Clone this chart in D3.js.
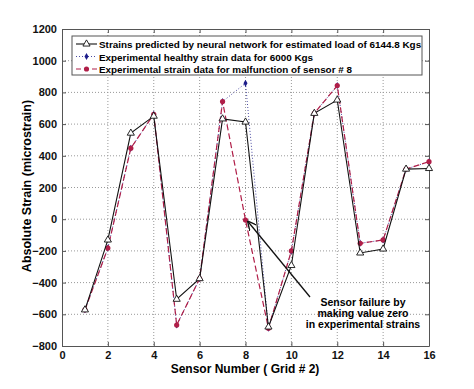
<!DOCTYPE html>
<html>
<head>
<meta charset="utf-8">
<script src="https://d3js.org/d3.v7.min.js"></script>
<style>
body { margin: 0; background: #fff; }
text { font-family: "Liberation Sans", Arial, sans-serif; font-weight: bold; }
</style>
</head>
<body>
<svg id="chart" width="474" height="389"></svg>
<script>
// sensor numbers and the three strain series
var sensors = [1, 2, 3, 4, 5, 6, 7, 8, 9, 10, 11, 12, 13, 14, 15, 16];
var predicted = [-572, -131, 543, 650, -505, -375, 633, 613, -680, -292, 668, 752, -213, -188, 316, 320];
var healthy = [-572, -182, 448, 662, -668, -375, 742, 858, -688, -200, 668, 843, -152, -131, 316, 363];
var malfunction = [-572, -182, 448, 662, -668, -375, 742, -5, -688, -200, 668, 843, -152, -131, 316, 363];
var xTicks = [0, 2, 4, 6, 8, 10, 12, 14, 16];
var yTicks = [-800, -600, -400, -200, 0, 200, 400, 600, 800, 1000, 1200];
var legendLabels = [
  "Strains predicted by neural network for estimated load of 6144.8 Kgs",
  "Experimental healthy strain data for 6000 Kgs",
  "Experimental strain data for malfunction of sensor # 8"
];
var noteLines = ["Sensor failure by", "making value zero", "in experimental strains"];

var svg = d3.select("#chart");
var pL = 62, pR = 429, pT = 29, pB = 346;

var x = d3.scaleLinear().domain([0, 16]).range([pL, pR]);
var y = d3.scaleLinear().domain([-800, 1200]).range([pB, pT]);

var red = "#b01e48", blue = "#1c1c8a";

// grid
var grid = svg.append("g");
grid.selectAll(".gx").data(xTicks.slice(1, -1)).enter().append("line")
  .attr("x1", d => x(d)).attr("x2", d => x(d))
  .attr("y1", pT).attr("y2", pB)
  .attr("stroke", "#999").attr("stroke-dasharray", "1,2");
grid.selectAll(".gy").data(yTicks.slice(1, -1)).enter().append("line")
  .attr("y1", d => y(d)).attr("y2", d => y(d))
  .attr("x1", pL).attr("x2", pR)
  .attr("stroke", "#999").attr("stroke-dasharray", "1,2");

// axes, ticks inside
var xAxis = d3.axisBottom(x).tickValues(xTicks).tickSizeInner(-4).tickSizeOuter(0).tickPadding(5);
var yAxis = d3.axisLeft(y).tickValues(yTicks).tickFormat(d3.format("d"))
  .tickSizeInner(-4).tickSizeOuter(0).tickPadding(5);
svg.append("g").attr("transform", "translate(0," + pB + ")").call(xAxis);
svg.append("g").attr("transform", "translate(" + pL + ",0)").call(yAxis);
svg.append("g").attr("transform", "translate(0," + pT + ")")
  .call(d3.axisTop(x).tickValues(xTicks).tickSizeInner(-4).tickSizeOuter(0).tickFormat(""));
svg.append("g").attr("transform", "translate(" + pR + ",0)")
  .call(d3.axisRight(y).tickValues(yTicks).tickSizeInner(-4).tickSizeOuter(0).tickFormat(""));
svg.selectAll(".domain").attr("stroke", "#555");
svg.selectAll(".tick line").attr("stroke", "#555");
svg.selectAll(".tick text").attr("font-size", 11).attr("font-weight", "bold").attr("fill", "#111")
  .attr("font-family", "Liberation Sans, Arial, sans-serif");

// axis titles
svg.append("text").attr("x", 245).attr("y", 373)
  .attr("text-anchor", "middle").attr("font-size", 12).text("Sensor Number ( Grid # 2)");
svg.append("text").attr("transform", "translate(31,186) rotate(-90)")
  .attr("text-anchor", "middle").attr("font-size", 12.5).text("Absolute Strain (microstrain)");

var line = d3.line().x((d, i) => x(sensors[i])).y(d => y(d));

// healthy series (blue dotted, diamonds)
svg.append("path").datum(healthy).attr("d", line).attr("fill", "none")
  .attr("stroke", blue).attr("stroke-width", 0.8).attr("stroke-dasharray", "1,2");
svg.selectAll(".hd").data(healthy).enter().append("path")
  .attr("d", d3.symbol(d3.symbolDiamond, 14))
  .attr("transform", (d, i) => "translate(" + x(sensors[i]) + "," + y(d) + ")")
  .attr("fill", blue);

// malfunction series (red dashed, circles)
svg.append("path").datum(malfunction).attr("d", line).attr("fill", "none")
  .attr("stroke", red).attr("stroke-width", 1.2).attr("stroke-dasharray", "6,3");
svg.selectAll(".md").data(malfunction).enter().append("circle")
  .attr("cx", (d, i) => x(sensors[i])).attr("cy", d => y(d)).attr("r", 2.6)
  .attr("fill", red);

// predicted series (black solid, open triangles)
svg.append("path").datum(predicted).attr("d", line).attr("fill", "none")
  .attr("stroke", "#111").attr("stroke-width", 1.1);
svg.selectAll(".pd").data(predicted).enter().append("path")
  .attr("d", d3.symbol(d3.symbolTriangle, 22))
  .attr("transform", (d, i) => "translate(" + x(sensors[i]) + "," + y(d) + ")")
  .attr("fill", "#fff").attr("stroke", "#111").attr("stroke-width", 0.9);

// legend
var lg = svg.append("g");
lg.append("rect").attr("x", 72).attr("y", 36).attr("width", 350).attr("height", 39)
  .attr("fill", "#fff").attr("stroke", "#555").attr("stroke-width", 1);
var styles = [
  {stroke: "#111", dash: null, w: 1.1},
  {stroke: blue, dash: "1,2", w: 0.8},
  {stroke: red, dash: "5,3", w: 1.2}
];
legendLabels.forEach(function(t, i) {
  var ly = 44 + i * 12.5;
  lg.append("line").attr("x1", 76).attr("x2", 97).attr("y1", ly).attr("y2", ly)
    .attr("stroke", styles[i].stroke).attr("stroke-width", styles[i].w)
    .attr("stroke-dasharray", styles[i].dash);
  var m;
  if (i === 0) {
    m = lg.append("path").attr("d", d3.symbol(d3.symbolTriangle, 22))
      .attr("fill", "#fff").attr("stroke", "#111").attr("stroke-width", 0.9);
  } else if (i === 1) {
    m = lg.append("path").attr("d", d3.symbol(d3.symbolDiamond, 14)).attr("fill", blue);
  } else {
    m = lg.append("path").attr("d", d3.symbol(d3.symbolCircle, 21)).attr("fill", red);
  }
  m.attr("transform", "translate(86.5," + ly + ")");
  lg.append("text").attr("x", 99).attr("y", ly + 4).attr("font-size", 9.9).text(t);
});

// annotation
svg.append("defs").append("marker").attr("id", "ah")
  .attr("viewBox", "0 0 10 10").attr("refX", 10).attr("refY", 5)
  .attr("markerWidth", 7).attr("markerHeight", 7).attr("orient", "auto")
  .append("path").attr("d", "M0,0 L10,5 L0,10").attr("fill", "none").attr("stroke", "#111").attr("stroke-width", 1.5);
svg.append("line").attr("x1", 310).attr("y1", 297)
  .attr("x2", x(8) + 2).attr("y2", y(malfunction[7]) + 1)
  .attr("stroke", "#111").attr("stroke-width", 1.3).attr("marker-end", "url(#ah)");
noteLines.forEach(function(t, i) {
  svg.append("text").attr("x", 363).attr("y", 306 + i * 11)
    .attr("text-anchor", "middle").attr("font-size", 10.5).text(t);
});
</script>
</body>
</html>
